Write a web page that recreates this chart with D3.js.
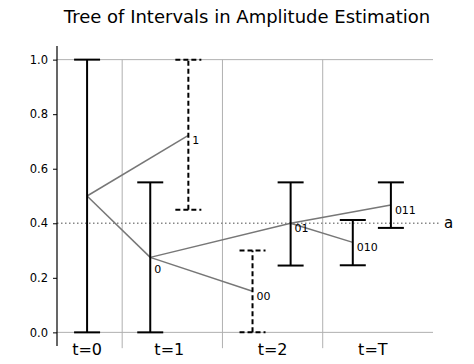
<!DOCTYPE html>
<meta charset="utf-8">
<style>
body { margin: 0; background: #fff; }
text { font-family: "DejaVu Sans", sans-serif; fill: #000; }
</style>
<body>
<script src="https://cdn.jsdelivr.net/npm/d3@7"></script>
<script>

var width = 474,
    height = 364;

// tree of intervals: level, x position, interval bounds, estimate, parent
var nodeIds   = ["root", "0", "1", "00", "01", "010", "011"];
var nodeX     = [0.15, 0.78, 1.16, 1.8, 2.18, 2.8, 3.18];
var nodeLo    = [0.0, 0.0, 0.45, 0.0, 0.245, 0.246, 0.383];
var nodeHi    = [1.0, 0.55, 1.0, 0.30, 0.55, 0.412, 0.55];
var nodeEst   = [0.5, 0.275, 0.722, 0.151, 0.40, 0.33, 0.467];
var nodeDash  = [false, false, true, true, false, false, false];
var nodeParent = [null, "root", "root", "0", "0", "01", "01"];

var levelLabels = ["t=0", "t=1", "t=2", "t=T"];
var levelX = [0.15, 0.97, 2.0, 3.0];
var separatorsX = [0.5, 1.5, 2.5];
var yTicks = [0, 0.2, 0.4, 0.6, 0.8, 1.0];
var aValue = 0.4;

var nodes = nodeIds.map(function(id, i) {
  return {id: id, x: nodeX[i], lo: nodeLo[i], hi: nodeHi[i], est: nodeEst[i],
          dashed: nodeDash[i], parent: nodeParent[i]};
});
var byId = {};
nodes.forEach(function(d) { byId[d.id] = d; });

var x = d3.scaleLinear().domain([-0.15, 3.6]).range([57, 433]);
var y = d3.scaleLinear().domain([-0.05, 1.05]).range([346, 46]);

var svg = d3.select("body").append("svg")
    .attr("width", width)
    .attr("height", height);

svg.append("text")
    .attr("x", 247).attr("y", 23)
    .attr("text-anchor", "middle")
    .style("font-size", "18px")
    .text("Tree of Intervals in Amplitude Estimation");

// horizontal grid at 0 and 1
svg.selectAll(".hgrid")
    .data([0, 1])
  .enter().append("line")
    .attr("x1", x.range()[0]).attr("x2", x.range()[1])
    .attr("y1", y).attr("y2", y)
    .attr("stroke", "#b0b0b0").attr("stroke-width", 1);

// level separators
svg.selectAll(".sep")
    .data(separatorsX)
  .enter().append("line")
    .attr("x1", x).attr("x2", x)
    .attr("y1", y(1)).attr("y2", y(-0.058))
    .attr("stroke", "#b0b0b0").attr("stroke-width", 1);

// true amplitude line
svg.append("line")
    .attr("x1", x.range()[0]).attr("x2", 440)
    .attr("y1", y(aValue)).attr("y2", y(aValue))
    .attr("stroke", "#888").attr("stroke-width", 1.5)
    .attr("stroke-dasharray", "1.5,2.5");

svg.append("text")
    .attr("x", 444).attr("y", y(aValue) + 5)
    .style("font-size", "15px")
    .text("a");

// y axis
var yAxis = svg.append("g")
    .attr("transform", "translate(" + x.range()[0] + ",0)")
    .call(d3.axisLeft(y).tickValues(yTicks).tickFormat(d3.format(".1f")).tickSize(4).tickPadding(5));
yAxis.select(".domain").attr("d", "M0," + y.range()[0] + "V" + y.range()[1]).attr("stroke-width", 1.2);
yAxis.attr("font-size", null).attr("font-family", null);
yAxis.selectAll("text").style("font-size", "11.5px");

// level labels
svg.selectAll(".lvl")
    .data(levelLabels)
  .enter().append("text")
    .attr("x", function(d, i) { return x(levelX[i]); })
    .attr("y", 355)
    .attr("text-anchor", "middle")
    .style("font-size", "16px")
    .text(function(d) { return d; });

// tree edges
svg.selectAll(".edge")
    .data(nodes.filter(function(d) { return d.parent; }))
  .enter().append("line")
    .attr("x1", function(d) { return x(byId[d.parent].x); })
    .attr("y1", function(d) { return y(byId[d.parent].est); })
    .attr("x2", function(d) { return x(d.x); })
    .attr("y2", function(d) { return y(d.est); })
    .attr("stroke", "#777").attr("stroke-width", 1.5);

// intervals
var cap = 13;
var g = svg.selectAll(".interval")
    .data(nodes)
  .enter().append("g")
    .attr("stroke", "#000").attr("stroke-width", 2)
    .attr("stroke-dasharray", function(d) { return d.dashed ? "5,3" : null; });

g.append("line")
    .attr("x1", function(d) { return x(d.x); }).attr("x2", function(d) { return x(d.x); })
    .attr("y1", function(d) { return y(d.lo); }).attr("y2", function(d) { return y(d.hi); });
g.append("line")
    .attr("x1", function(d) { return x(d.x) - cap; }).attr("x2", function(d) { return x(d.x) + cap; })
    .attr("y1", function(d) { return y(d.lo); }).attr("y2", function(d) { return y(d.lo); });
g.append("line")
    .attr("x1", function(d) { return x(d.x) - cap; }).attr("x2", function(d) { return x(d.x) + cap; })
    .attr("y1", function(d) { return y(d.hi); }).attr("y2", function(d) { return y(d.hi); });

// node labels
svg.selectAll(".nlabel")
    .data(nodes.filter(function(d) { return d.id !== "root"; }))
  .enter().append("text")
    .attr("x", function(d) { return x(d.x) + 4; })
    .attr("y", function(d) { return y(d.est) + (d.id === "0" ? 16 : 9); })
    .style("font-size", "11px")
    .text(function(d) { return d.id; });

</script>
